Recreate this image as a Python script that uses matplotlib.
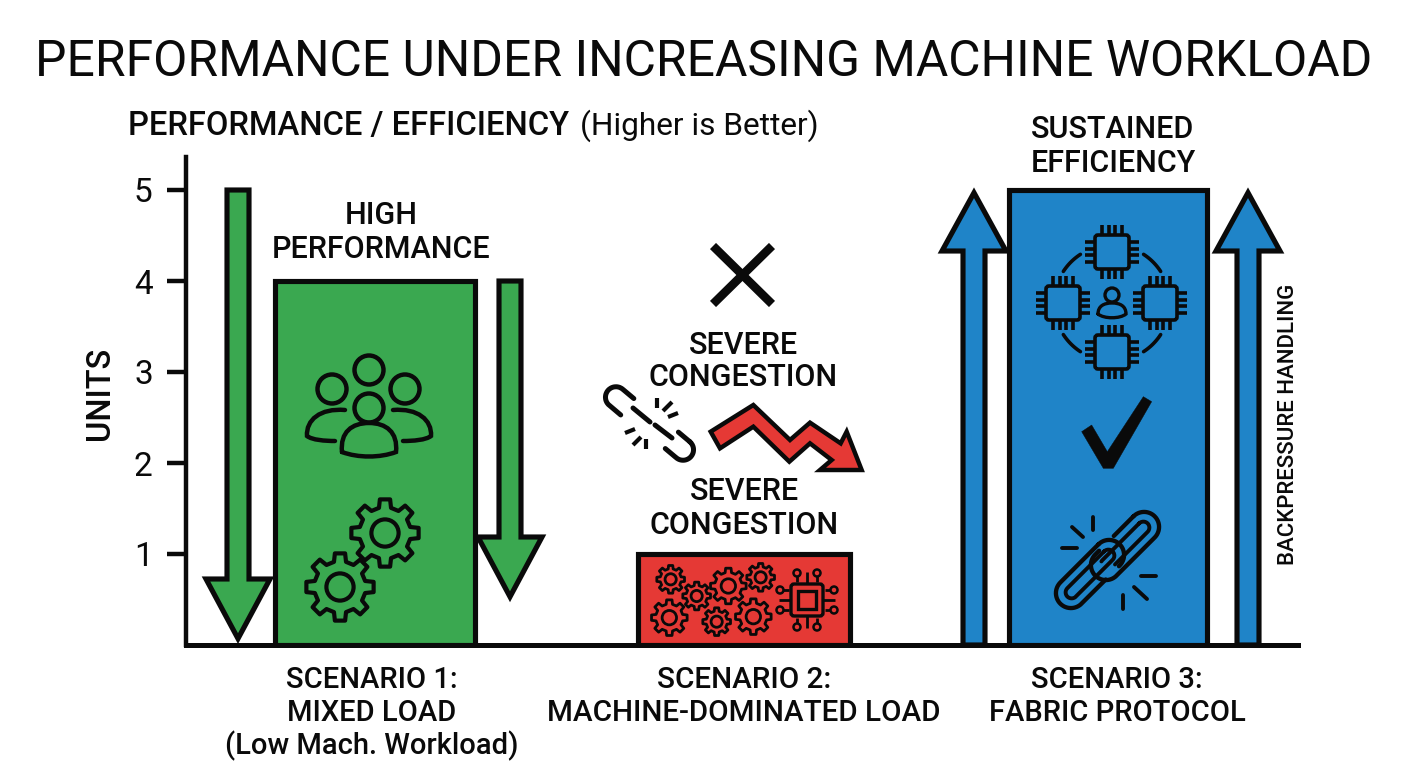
import numpy as np
import matplotlib
matplotlib.use("Agg")
import matplotlib.pyplot as plt
from matplotlib.patches import Polygon, Circle, PathPatch, FancyBboxPatch, Rectangle
from matplotlib.path import Path

plt.rcParams["font.family"] = ["Roboto", "DejaVu Sans"]

scenarios = ["Scenario 1", "Scenario 2", "Scenario 3"]
values = [4, 1, 5]
bar_colors = ["#3AA850", "#E53935", "#1F84C8"]
y_ticks = [1, 2, 3, 4, 5]

# top and bottom of the big arrows, in chart units
arrow_from = [5.0, 4.0, 0.0, 0.0]
arrow_to = [0.07, 0.53, 4.97, 4.97]
arrow_colors = ["#3AA850", "#3AA850", "#1F84C8", "#1F84C8"]

BLACK = "#0a0a0a"
LW = 3.7  # 5px border

fig = plt.figure(figsize=(14.08, 7.68), dpi=100, facecolor="white")


def ax_rect(l, t, r, b):
    return [l / 1408, 1 - b / 768, (r - l) / 1408, (b - t) / 768]


ax = fig.add_axes(ax_rect(186, 157, 1298, 645))
ax.set_xlim(186, 1298)
ax.set_ylim(0, (645 - 157) / 91)
ax.bar([375, 744, 1108], values, width=[200, 212, 198], color=bar_colors,
       edgecolor=BLACK, linewidth=LW, zorder=2)
for s in ["top", "right"]:
    ax.spines[s].set_visible(False)
ax.spines["left"].set_linewidth(3.2)
ax.spines["bottom"].set_linewidth(3.6)
ax.spines["left"].set_color(BLACK)
ax.spines["bottom"].set_color(BLACK)
ax.set_xticks([])
ax.set_yticks(y_ticks)
ax.tick_params(axis="y", length=14, width=3.2, color=BLACK, labelsize=24, pad=10, labelcolor=BLACK)

# overlay in pixels for icons and labels
ov = fig.add_axes([0, 0, 1, 1], facecolor="none")
ov.set_xlim(0, 1408)
ov.set_ylim(768, 0)
ov.axis("off")


def to_px(v):
    return 645 - 91 * v


def label(x, y, s, size=22, **kw):
    ov.text(x, y, s, ha=kw.pop("ha", "center"), va=kw.pop("va", "center"), fontsize=size, color=BLACK,
            fontweight=kw.pop("fontweight", "medium"), **kw)


def big_arrow(x, v0, v1, color, head_y, shaft=11, head=32):
    y0, y1 = to_px(v0), to_px(v1)
    pts = [(x - shaft, y0), (x - shaft, head_y), (x - head, head_y), (x, y1),
           (x + head, head_y), (x + shaft, head_y), (x + shaft, y0)]
    ov.add_patch(Polygon(pts, closed=True, fc=color, ec=BLACK, lw=LW, joinstyle="miter", zorder=3))


big_arrow(238, arrow_from[0], arrow_to[0], arrow_colors[0], 579)
big_arrow(510, arrow_from[1], arrow_to[1], arrow_colors[1], 537)
big_arrow(974, arrow_from[2], arrow_to[2], arrow_colors[2], 251)
big_arrow(1248, arrow_from[3], arrow_to[3], arrow_colors[3], 251)


def gear(cx, cy, r, teeth=8, lw=3):
    pts = []
    step = 2 * np.pi / teeth
    root = r * 0.76
    for i in range(teeth):
        a = i * step - np.pi / 2
        w = step * 0.24
        pts += [(root, a - w * 1.25), (r, a - w * 0.8), (r, a + w * 0.8), (root, a + w * 1.25)]
    xy = [(cx + p * np.cos(a), cy + p * np.sin(a)) for p, a in pts]
    ov.add_patch(Polygon(xy, closed=True, fill=False, ec=BLACK, lw=lw, joinstyle="round", zorder=4))
    ov.add_patch(Circle((cx, cy), r * 0.40, fill=False, ec=BLACK, lw=lw, zorder=4))


def curve(pts, lw=3.2):
    codes = [Path.MOVETO] + [Path.CURVE4] * (len(pts) - 1)
    ov.add_patch(PathPatch(Path(pts, codes), fill=False, ec=BLACK, lw=lw, capstyle="round", zorder=4))


def seg(x0, y0, x1, y1, lw=2.6, cap="round"):
    ov.plot([x0, x1], [y0, y1], color=BLACK, lw=lw, solid_capstyle=cap, zorder=4)


def stadium(cx, cy, length, r, angle, lw=3, skip=None):
    # rounded link outline; skip is a (start, end) fraction of the outline left open
    half = length / 2 - r
    t1 = np.linspace(-np.pi / 2, np.pi / 2, 30)
    t2 = np.linspace(np.pi / 2, 3 * np.pi / 2, 30)
    x = np.r_[half + r * np.cos(t1), -half + r * np.cos(t2), half]
    y = np.r_[r * np.sin(t1), r * np.sin(t2), -r]
    s = np.r_[0, np.cumsum(np.hypot(np.diff(x), np.diff(y)))]
    u = np.linspace(0, s[-1], 400)
    x, y = np.interp(u, s, x), np.interp(u, s, y)
    a = np.radians(angle)
    px = cx + x * np.cos(a) - y * np.sin(a)
    py = cy + x * np.sin(a) + y * np.cos(a)
    f = u / s[-1]
    if skip:
        for lo, hi in skip:
            m = (f > lo) & (f < hi)
            px[m] = np.nan
            py[m] = np.nan
    ov.plot(px, py, color=BLACK, lw=lw, solid_capstyle="round", zorder=4)


def chip(cx, cy, half, pin, lw=2.6, pins=4):
    ov.add_patch(FancyBboxPatch((cx - half + 2, cy - half + 2), 2 * half - 4, 2 * half - 4,
                                boxstyle="round,pad=2,rounding_size=3", fill=False, ec=BLACK, lw=lw, zorder=4))
    off = np.linspace(-half * 0.6, half * 0.6, pins)
    for o in off:
        seg(cx + o, cy - half, cx + o, cy - half - pin, lw=lw, cap="butt")
        seg(cx + o, cy + half, cx + o, cy + half + pin, lw=lw, cap="butt")
        seg(cx - half, cy + o, cx - half - pin, cy + o, lw=lw, cap="butt")
        seg(cx + half, cy + o, cx + half + pin, cy + o, lw=lw, cap="butt")


# scenario 1 icons: people and gears
for hx, hy in [(369, 370), (332, 389), (405, 389), (369, 408)]:
    ov.add_patch(Circle((hx, hy), 14.5, fill=False, ec=BLACK, lw=3.2, zorder=4))
curve([(345, 410), (320, 408), (306, 420), (307, 436), (312, 440), (325, 441), (335, 441)])
curve([(393, 410), (418, 408), (432, 420), (431, 436), (426, 440), (413, 441), (403, 441)])
curve([(342, 452), (340, 432), (352, 423), (369, 423), (386, 423), (398, 432), (396, 452),
       (380, 458), (358, 458), (342, 452)])
gear(385, 533, 34)
gear(340, 587, 34)

# scenario 2 icons
seg(713, 246, 772, 304, lw=6.2, cap="butt")
seg(772, 246, 713, 304, lw=6.2, cap="butt")
stadium(624, 404, 42, 10.5, 40, lw=3.6, skip=[(0.0, 0.36), (0.94, 1.01)])
stadium(675, 443, 42, 10.5, 40, lw=3.6, skip=[(0.44, 0.86)])
seg(633, 408, 650, 422, lw=3.6)
seg(655, 425, 672, 438, lw=3.6)
for x0, y0, x1, y1 in [(657, 398, 657, 408), (672, 402, 663, 411), (678, 413, 668, 417),
                       (625, 433, 635, 429), (633, 445, 641, 437), (646, 439, 646, 449)]:
    seg(x0, y0, x1, y1, lw=3, cap="butt")

zig = [(362, 605), (490, 525), (600, 630), (660, 578), (752, 640), (770, 605), (815, 720),
       (690, 720), (725, 690), (660, 640), (598, 695), (490, 590), (390, 655)]
ov.add_patch(Polygon([(x / 3 + 590, y / 3 + 230) for x, y in zig], closed=True, fc="#E53935",
                     ec=BLACK, lw=3.2, joinstyle="miter", zorder=4))

red_gears = [(242, 1048, 14), (320, 1098, 14), (415, 1068, 18), (512, 1042, 14),
             (238, 1163, 18), (380, 1175, 14), (490, 1160, 18)]
for x, y, r in red_gears:
    gear(x / 3 + 590, y / 3 + 230, r, lw=2)

chip_x, chip_y = 807, 600
ov.add_patch(FancyBboxPatch((chip_x - 14, chip_y - 14), 28, 28, boxstyle="round,pad=2,rounding_size=3",
                            fill=False, ec=BLACK, lw=2.4, zorder=4))
ov.add_patch(Rectangle((chip_x - 9, chip_y - 9), 18, 18, fill=False, ec=BLACK, lw=2.4, zorder=4))
for sx, sy in [(0, -1), (0, 1), (-1, 0), (1, 0)]:
    seg(chip_x + sx * 16, chip_y + sy * 16, chip_x + sx * 28, chip_y + sy * 28, lw=2, cap="butt")
    for o in [-10, 10]:
        ex, ey = (o, sy * 18) if sx == 0 else (sx * 18, o)
        hx, hy = (o, sy * 27) if sx == 0 else (sx * 27, o)
        seg(chip_x + ex, chip_y + ey, chip_x + hx, chip_y + hy, lw=2, cap="butt")
        ov.add_patch(Circle((chip_x + hx, chip_y + hy), 3.5, fc="#E53935", ec=BLACK, lw=1.8, zorder=5))

# scenario 3 icons
for cx, cy in [(1112, 252), (1063, 303), (1160, 303), (1112, 352)]:
    chip(cx, cy, 17, 10)
for a0, a1 in [(-57, -33), (33, 57), (123, 147), (213, 237)]:
    t = np.radians(np.linspace(a0, a1, 20))
    ov.plot(1112 + 58 * np.cos(t), 303 + 58 * np.sin(t), color=BLACK, lw=2.6, solid_capstyle="round", zorder=4)
ov.add_patch(Circle((1112, 295), 7, fill=False, ec=BLACK, lw=2.4, zorder=4))
curve([(1098, 314), (1098, 306), (1104, 303), (1112, 303), (1120, 303), (1126, 306), (1126, 314),
       (1120, 319), (1104, 319), (1098, 314)], 2.4)
check = [(455, 755), (485, 735), (532, 815), (640, 650), (665, 665), (550, 865), (520, 865)]
ov.add_patch(Polygon([(x / 3 + 930, y / 3 + 180) for x, y in check], closed=True, fc=BLACK, ec=BLACK, lw=0.3, zorder=4))
stadium(1090, 574, 84, 15, -45, lw=3.1, skip=[(0.24, 0.33)])
stadium(1090, 574, 64, 6, -45, lw=2.8)
stadium(1125, 546, 84, 15, -45, lw=3.1, skip=[(0.76, 0.86)])
stadium(1125, 546, 64, 6, -45, lw=2.8, skip=[(0.46, 0.62)])
for x0, y0, x1, y1 in [(1093, 517, 1093, 530), (1072, 527, 1083, 537), (1062, 548, 1077, 548),
                       (1141, 576, 1156, 576), (1134, 587, 1147, 599), (1123, 595, 1123, 609)]:
    seg(x0, y0, x1, y1, lw=2.8)

# text
label(704, 76, "PERFORMANCE UNDER INCREASING MACHINE WORKLOAD", size=35.8, fontweight="normal", va="baseline")
ov.text(128, 135, "PERFORMANCE / EFFICIENCY", fontsize=23.6, fontweight="medium", color=BLACK, ha="left", va="baseline")
ov.text(580, 135, "(Higher is Better)", fontsize=22.8, color=BLACK, ha="left", va="baseline")
label(100, 393, "UNITS", size=23.5, rotation=90)
label(381, 215, "HIGH")
label(381, 249, "PERFORMANCE")
label(743, 345, "SEVERE")
label(743, 378, "CONGESTION")
label(744, 492, "SEVERE")
label(744, 526, "CONGESTION")
label(1112, 130, "SUSTAINED")
label(1113, 163, "EFFICIENCY")
label(1288, 424, "BACKPRESSURE HANDLING", size=16, rotation=90)
label(372, 680, "SCENARIO 1:", size=21)
label(372, 713, "MIXED LOAD", size=21)
label(372, 746, "(Low Mach. Workload)", size=21)
label(744, 680, "SCENARIO 2:", size=21.3)
label(744, 713, "MACHINE-DOMINATED LOAD", size=21.3)
label(1117, 680, "SCENARIO 3:", size=21)
label(1117, 713, "FABRIC PROTOCOL", size=21)

plt.savefig("out.png", dpi=100, facecolor="white")
